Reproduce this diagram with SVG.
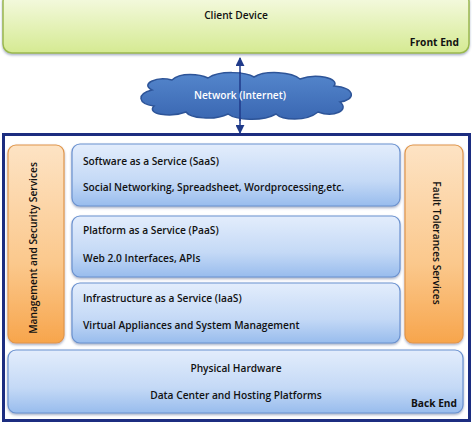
<svg xmlns="http://www.w3.org/2000/svg" width="474" height="424" viewBox="0 0 474 424">
<defs>
<linearGradient id="gGreen" x1="0" y1="0" x2="0" y2="1"><stop offset="0" stop-color="#f7fbe6"/><stop offset="1" stop-color="#d5ea92"/></linearGradient>
<linearGradient id="gBlue" x1="0" y1="0" x2="0" y2="1"><stop offset="0" stop-color="#e3edfc"/><stop offset="0.6" stop-color="#c4d9f6"/><stop offset="1" stop-color="#98bced"/></linearGradient>
<linearGradient id="gOrange" x1="0" y1="0" x2="0" y2="1"><stop offset="0" stop-color="#fde3c4"/><stop offset="0.6" stop-color="#fbc88c"/><stop offset="1" stop-color="#f7a54c"/></linearGradient>
<linearGradient id="gCloud" x1="0" y1="0" x2="0" y2="1"><stop offset="0" stop-color="#5486cc"/><stop offset="1" stop-color="#3a67b2"/></linearGradient>
<filter id="sh" x="-5%" y="-5%" width="110%" height="120%"><feDropShadow dx="0" dy="1.5" stdDeviation="1" flood-color="#3c4f80" flood-opacity="0.45"/></filter>
<marker id="arr" viewBox="0 0 10 10" refX="9" refY="5" markerWidth="6" markerHeight="6" orient="auto-start-reverse"><path d="M0,0 L10,5 L0,10 z" fill="#1f3a8a"/></marker>
<style>
text{font-family:"Open Sans","Liberation Sans",sans-serif;font-size:10.2px;font-weight:600;fill:#111}
.blue{fill:url(#gBlue);stroke:#6a91cf;stroke-width:1.2;filter:url(#sh)}
.orange{fill:url(#gOrange);stroke:#e0964a;stroke-width:1.2;filter:url(#sh)}
.mid{text-anchor:middle}
.end{text-anchor:end;font-weight:700}
</style>
</defs>
<g id="client">
<rect x="3" y="-8" width="466" height="61" rx="9" fill="url(#gGreen)" stroke="#9ab84e" stroke-width="1.5" filter="url(#sh)"/>
<text class="mid" x="236" y="19">Client Device</text>
<text class="end" x="459" y="46">Front End</text>
</g>
<g id="backend">
<rect x="3.5" y="134.5" width="466" height="286" fill="#ffffff" stroke="#1c2d80" stroke-width="3"/>
</g>
<g id="connectors">
<line x1="240" y1="58" x2="240" y2="133" stroke="#1f3a8a" stroke-width="1.5" marker-start="url(#arr)" marker-end="url(#arr)"/>
</g>
<g id="network">
<path d="M152,90 C140,84 156,76 172,80 C180,72 200,74 208,78 C220,70 246,72 254,77 C266,70 292,72 300,79 C316,73 340,78 334,86 C356,88 356,100 340,102 C350,110 334,118 318,112 C306,122 282,120 276,114 C262,122 236,120 228,114 C214,121 190,118 186,112 C170,118 146,114 154,106 C138,104 136,94 152,90 Z" fill="url(#gCloud)" stroke="#2d5498" stroke-width="1.5"/>
<line x1="240" y1="72" x2="240" y2="121" stroke="#1f3a8a" stroke-width="1.5"/>
<text class="mid" x="240" y="99" style="fill:#ffffff">Network (Internet)</text>
</g>
<g id="mgmt">
<rect class="orange" x="8" y="145" width="56" height="198" rx="8"/>
<text class="mid" transform="translate(37,248) rotate(-90)">Management and Security Services</text>
</g>
<g id="fault">
<rect class="orange" x="405" y="145" width="58" height="198" rx="8"/>
<text class="mid" transform="translate(433,243) rotate(90)">Fault Tolerances Services</text>
</g>
<g id="saas">
<rect class="blue" x="72" y="144" width="328" height="62" rx="8"/>
<text x="83" y="165">Software as a Service (SaaS)</text>
<text x="83" y="191">Social Networking, Spreadsheet, Wordprocessing,etc.</text>
</g>
<g id="paas">
<rect class="blue" x="72" y="216" width="328" height="61" rx="8"/>
<text x="83" y="234">Platform as a Service (PaaS)</text>
<text x="83" y="262">Web 2.0 Interfaces, APIs</text>
</g>
<g id="iaas">
<rect class="blue" x="72" y="283" width="328" height="60" rx="8"/>
<text x="83" y="302">Infrastructure as a Service (IaaS)</text>
<text x="83" y="329">Virtual Appliances and System Management</text>
</g>
<g id="hardware">
<rect class="blue" x="8" y="350" width="455" height="63" rx="8"/>
<text class="mid" x="236" y="372">Physical Hardware</text>
<text class="mid" x="236" y="399">Data Center and Hosting Platforms</text>
<text class="end" x="457" y="407">Back End</text>
</g>
</svg>
